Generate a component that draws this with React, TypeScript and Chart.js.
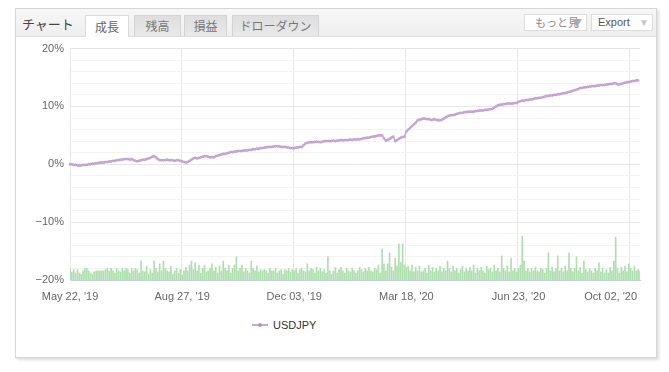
import React, { useEffect, useRef } from "react";
import { Chart, registerables } from "chart.js";

Chart.register(...registerables);

const tickIndices = [0, 60, 120, 180, 240, 300];
const tickLabels = ["May 22, '19", "Aug 27, '19", "Dec 03, '19", "Mar 18, '20", "Jun 23, '20", "Oct 02, '20"];
const tabs = ["残高", "損益", "ドローダウン"];
const seriesName = "USDJPY";

// growth in % (one value per trading day)
const growth: (number | null)[] = [
  0.0, 0.0, -0.1, -0.1, -0.2, -0.2, -0.2, -0.1, -0.1, -0.1,
  0.0, 0.0, 0.1, 0.1, 0.2, 0.2, 0.3, 0.3, 0.3, 0.4,
  0.4, 0.5, 0.5, 0.6, 0.6, 0.7, 0.7, 0.8, 0.8, 0.9,
  0.9, 0.9, 0.8, 0.9, 0.7, 0.6, 0.5, 0.6, 0.7, 0.8,
  0.8, 0.9, 1.0, 1.1, 1.3, 1.4, 1.2, 0.9, 0.7, 0.7,
  0.7, 0.7, 0.8, 0.7, 0.7, 0.7, 0.6, 0.7, 0.7, 0.6,
  0.5, 0.4, 0.3, 0.4, 0.6, 0.8, 1.0, 1.1, 1.0, 1.1,
  1.2, 1.3, 1.4, 1.4, 1.3, 1.2, 1.2, 1.2, 1.4, 1.5,
  1.6, 1.7, 1.8, 1.8, 1.9, 2.0, 2.1, 2.1, 2.2, 2.2,
  2.3, 2.3, 2.3, 2.4, 2.4, 2.4, 2.5, 2.5, 2.6, 2.6,
  2.7, 2.7, 2.8, 2.8, 2.9, 2.9, 3.0, 3.0, 3.0, 3.1,
  3.1, 3.1, 3.1, 3.0, 3.0, 3.0, 2.9, 2.9, 2.8, 2.8,
  2.8, 2.9, 2.9, 3.0, 3.0, 3.3, 3.6, 3.7, 3.8, 3.8,
  3.8, 3.9, 3.9, 3.9, 3.8, 3.9, 4.0, 4.0, 4.0, 4.0,
  4.0, 4.1, 4.0, 4.1, 4.1, 4.2, 4.1, 4.2, 4.2, 4.2,
  4.3, 4.2, 4.3, 4.3, 4.3, 4.3, 4.4, 4.5, 4.5, 4.6,
  4.6, 4.7, 4.8, 4.8, 4.9, 5.0, 5.0, 5.0, 4.5, 4.1,
  4.2, 4.4, 4.6, 4.8, 4.0, 4.2, 4.4, 4.6, 4.7, 4.8,
  5.7, 6.0, 6.3, 6.6, 6.9, 7.2, 7.6, 7.7, 7.8, 7.9,
  7.9, 7.8, 7.8, 7.7, 7.7, 7.8, 7.7, 7.6, 7.6, 7.7,
  7.9, 8.1, 8.3, 8.4, 8.5, 8.5, 8.6, 8.7, 8.8, 8.9,
  8.9, 9.0, 9.0, 9.1, 9.1, 9.1, 9.1, 9.2, 9.2, 9.3,
  9.3, 9.3, 9.4, 9.4, 9.5, 9.5, 9.6, 9.8, 10.0, 10.2,
  10.3, 10.3, 10.4, 10.4, 10.5, 10.5, 10.5, 10.5, 10.6, 10.6,
  10.8, 10.9, 11.0, 11.0, 11.1, 11.1, 11.2, 11.2, 11.3, 11.4,
  11.4, 11.5, 11.5, 11.6, 11.7, 11.8, 11.8, 11.9, 11.9, 12.0,
  12.0, 12.1, 12.1, 12.2, 12.3, 12.3, 12.4, 12.5, 12.6, 12.7,
  12.8, 12.9, 13.0, 13.2, 13.2, 13.3, 13.3, 13.4, 13.4, 13.5,
  13.5, 13.5, 13.6, 13.6, 13.7, 13.7, 13.7, 13.8, 13.8, 13.9,
  13.9, 14.0, 14.0, 13.8, 13.8, 13.9, 14.0, 14.1, 14.2, 14.2,
  14.3, 14.4, 14.4, 14.5, 14.5, null,
];

// trade volume per day (arbitrary units on a hidden axis)
const volume: number[] = [
  5, 3.5, 4.5, 3, 4.5, 3, 2.5, 4, 5, 5,
  4, 3, 2.5, 3.5, 4, 4, 4, 4, 4, 4.5,
  5, 4, 5, 4, 3, 5, 4, 3.5, 5, 4,
  5, 4.5, 3, 5, 4, 5, 4.5, 3, 8.2, 4,
  3.5, 6, 2.5, 4.5, 3, 8.2, 5, 3.5, 7, 4,
  8.2, 5, 4, 3.5, 6, 2.5, 4, 5, 3, 4.5,
  2, 4, 5.5, 4, 6.5, 8.2, 4.5, 7.5, 4, 6.5,
  3, 5, 6.5, 3.5, 4, 5, 7, 4, 5.5, 3,
  6, 4, 8.2, 5, 4, 6.5, 3, 5, 6.5, 10,
  4, 5, 6.5, 3.5, 5, 4, 3, 8.2, 5, 4,
  6, 3.5, 4.5, 4, 4.5, 4, 3, 5, 4, 4,
  5, 3, 4, 4.5, 2.5, 4.5, 4, 5, 3.5, 4.5,
  4, 5, 3, 4.5, 5, 4, 3.5, 7, 4, 5,
  4.5, 3, 5.5, 4, 5, 3.5, 4.5, 3, 10, 4,
  2.5, 4, 5.5, 3, 4.5, 5.5, 4, 3, 5, 4,
  3.5, 5, 4, 3, 4, 5.5, 4.5, 3.5, 5, 4,
  5.5, 4, 3.5, 5, 4.5, 6.5, 3, 13.4, 7, 4,
  7, 11.7, 5.5, 4, 9.5, 6, 15.6, 7.5, 15.6, 6.5,
  5.5, 6, 4, 6.5, 3.5, 5.5, 4, 6, 3.5, 4,
  5, 3, 6.5, 4, 5.5, 3.5, 5, 4, 6, 3.5,
  5, 4, 8.2, 5, 3.5, 6, 4, 5, 3, 4.5,
  6, 3.5, 5, 4, 5.5, 4, 6.5, 3, 5, 4,
  5.5, 4, 3, 6, 4.5, 5, 3.5, 6.5, 4, 5,
  3.5, 10.4, 5, 4, 6, 3.5, 9.5, 4, 5, 3.5,
  5, 6.5, 19, 8.2, 4, 5, 3.5, 5, 4, 5.5,
  4, 3.5, 5, 4.5, 3, 5, 11.7, 4, 5.5, 3.5,
  5, 10.4, 4, 5, 3.5, 6, 4, 11.7, 5, 3.5,
  5, 10, 4, 5.5, 3, 8.2, 4.5, 3.5, 5, 4,
  3, 5, 4, 7.4, 3.5, 5, 3, 4.5, 3, 5.5,
  4, 8.2, 18.6, 5, 3, 5.5, 4, 6, 3.5, 7,
  5, 4, 6, 4, 4.5, 4,
];

const categories = growth.map((_, i) => String(i));

const LINE = "#cba9d6";
const FONT = "'Liberation Sans', Arial, sans-serif";
const CJK = "'Noto Sans CJK JP', 'Liberation Sans', sans-serif";

const xLabelPlugin = {
  id: "xLabels",
  afterDraw(chart: any) {
    const { ctx, chartArea, scales } = chart;
    const xs = scales.x;
    ctx.save();
    ctx.font = `11px ${FONT}`;
    ctx.fillStyle = "#666666";
    ctx.textBaseline = "middle";
    ctx.textAlign = "center";
    tickIndices.forEach((idx, k) => {
      const label = tickLabels[k];
      const w = ctx.measureText(label).width;
      let x = xs.getPixelForValue(idx);
      if (x + w / 2 > chartArea.right - 3) x = chartArea.right - 3 - w / 2;
      ctx.fillText(label, x, chartArea.bottom + 17);
    });
    ctx.restore();
  },
};

function ChartCanvas() {
  const ref = useRef<HTMLCanvasElement | null>(null);
  useEffect(() => {
    if (!ref.current) return;
    const chart = new Chart(ref.current, {
      data: {
        labels: categories,
        datasets: [
          {
            type: "line",
            label: seriesName,
            data: growth,
            borderColor: LINE,
            borderWidth: 1.5,
            pointRadius: 1.1,
            pointBorderWidth: 0.5,
            pointBackgroundColor: "#d2b4dc",
            pointBorderColor: "#b08cc0",
            tension: 0,
            yAxisID: "y",
            order: 0,
          },
          {
            type: "bar",
            label: "volume",
            data: volume,
            backgroundColor: "#addfad",
            barThickness: 1,
            categoryPercentage: 1,
            barPercentage: 1,
            yAxisID: "y2",
            order: 1,
          },
        ],
      } as any,
      options: {
        animation: false,
        responsive: false,
        maintainAspectRatio: false,
        layout: { padding: { left: 0, right: 16, top: 12, bottom: 30 } },
        plugins: { legend: { display: false }, tooltip: { enabled: false } },
        scales: {
          x: {
            type: "category",
            offset: false,
            ticks: { display: false },
            grid: {
              drawTicks: false,
              color: (c: any) => (c.index > 0 && tickIndices.includes(c.index) ? "#e6e6e6" : "rgba(0,0,0,0)"),
              lineWidth: 1,
            },
            border: { display: true, color: "#c0d0e0", width: 1 },
          },
          y: {
            min: -20,
            max: 20,
            ticks: {
              stepSize: 2,
              autoSkip: false,
              padding: 6,
              color: "#666666",
              font: { family: FONT, size: 11 },
              callback: (v: any) => {
                const n = Number(v);
                if (Math.round(n) % 10 !== 0) return "";
                return (n < 0 ? "\u2212" + Math.abs(n) : String(n)) + "%";
              },
            },
            grid: {
              drawTicks: false,
              color: (c: any) => (Math.round(c.tick.value) % 10 === 0 ? "#e6e6e6" : "#f3f3f3"),
            },
            border: { display: true, color: "#e6e6e6" },
            afterFit: (s: any) => {
              s.width = 55;
            },
          },
          y2: {
            display: false,
            position: "right",
            min: 0,
            max: 100,
          },
        },
      } as any,
      plugins: [xLabelPlugin],
    });
    return () => chart.destroy();
  }, []);
  return <canvas ref={ref} width={641} height={274} style={{ position: "absolute", left: 7, top: 28, width: 641, height: 274 }} />;
}

const tabPos = [
  { left: 118, width: 47 },
  { left: 168, width: 43 },
  { left: 216, width: 87 },
];

export default function App() {
  return (
    <div style={{ position: "relative", width: 653, height: 356, fontFamily: FONT }}>
      <div
        style={{
          position: "absolute",
          left: 7,
          top: 0,
          width: 642,
          height: 350,
          boxSizing: "border-box",
          border: "1px solid #d6d6d6",
          background: "#fff",
          boxShadow: "2px 2px 3px rgba(0,0,0,0.14)",
        }}
      >
        <div
          style={{
            position: "absolute",
            left: 0,
            top: 0,
            right: 0,
            height: 27,
            background: "linear-gradient(#f7f7f7, #efefef)",
            borderBottom: "1px solid #dcdcdc",
          }}
        />
        <div style={{ position: "absolute", left: 6, top: 7, fontFamily: CJK, fontSize: 13, color: "#444", lineHeight: "16px" }}>
          チャート
        </div>
        <div
          style={{
            position: "absolute",
            left: 69,
            top: 6,
            width: 44,
            height: 22,
            boxSizing: "border-box",
            background: "#fff",
            border: "1px solid #dadada",
            borderBottom: "none",
            fontFamily: CJK,
            fontSize: 12,
            color: "#666",
            textAlign: "center",
            lineHeight: "21px",
          }}
        >
          成長
        </div>
        {tabs.map((t, i) => (
          <div
            key={t}
            style={{
              position: "absolute",
              left: tabPos[i].left,
              top: 6,
              width: tabPos[i].width,
              height: 21,
              boxSizing: "border-box",
              background: "linear-gradient(#dedede, #e9e9e9)",
              border: "1px solid #d3d3d3",
              borderBottom: "none",
              fontFamily: CJK,
              fontSize: 12,
              color: "#777",
              textAlign: "center",
              lineHeight: "20px",
            }}
          >
            {t}
          </div>
        ))}
        <div
          style={{
            position: "absolute",
            left: 508,
            top: 5,
            width: 63,
            height: 17,
            boxSizing: "border-box",
            background: "#fff",
            border: "1px solid #dcdcdc",
            fontFamily: CJK,
            fontSize: 11,
            color: "#8a8a8a",
            lineHeight: "15px",
            paddingLeft: 10,
            whiteSpace: "nowrap",
          }}
        >
          もっと見<span style={{ position: "absolute", left: 47, top: 0, color: "#aaa", fontSize: 10 }}>▼</span>
        </div>
        <div
          style={{
            position: "absolute",
            left: 575,
            top: 5,
            width: 62,
            height: 17,
            boxSizing: "border-box",
            background: "#fff",
            border: "1px solid #dcdcdc",
            fontSize: 11,
            color: "#555",
            lineHeight: "15px",
            paddingLeft: 6,
            whiteSpace: "nowrap",
          }}
        >
          Export<span style={{ position: "absolute", left: 47, top: 0, color: "#c8c8c8", fontSize: 10 }}>▼</span>
        </div>
      </div>
      <ChartCanvas />
      <div style={{ position: "absolute", left: 244, top: 310, height: 14, display: "flex", alignItems: "center" }}>
        <span style={{ position: "relative", width: 16, height: 2, background: LINE, display: "inline-block" }}>
          <span
            style={{
              position: "absolute",
              left: 6,
              top: -1.5,
              width: 4,
              height: 4,
              borderRadius: 2,
              background: "#b892c8",
            }}
          />
        </span>
        <span style={{ marginLeft: 5, fontSize: 11, color: "#333" }}>{seriesName}</span>
      </div>
    </div>
  );
}
